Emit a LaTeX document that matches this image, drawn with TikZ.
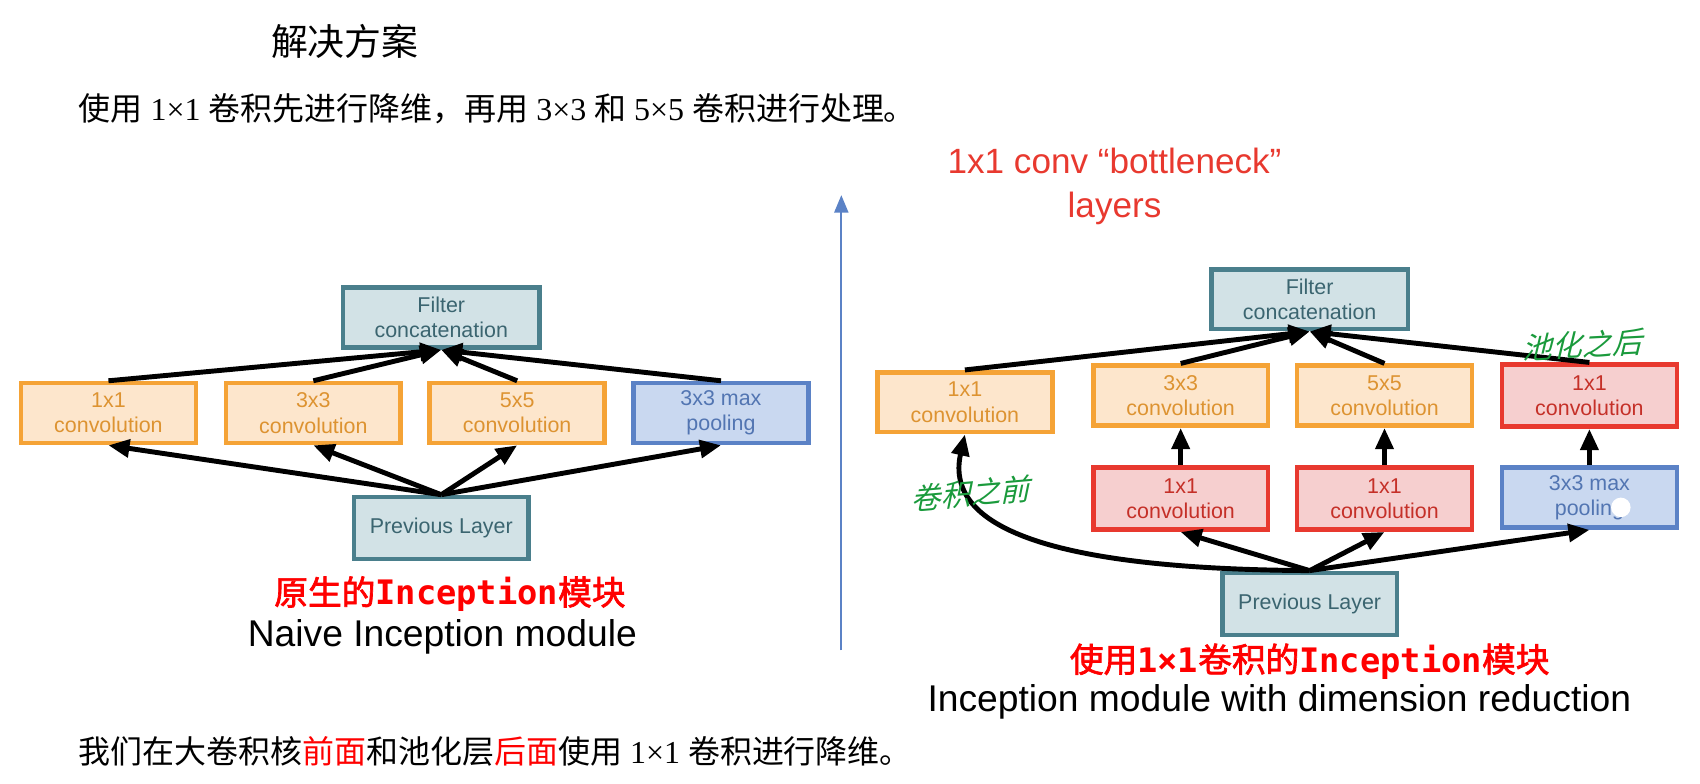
\documentclass[tikz,border=0pt]{standalone}
\usepackage{fontspec}
\setmainfont{Liberation Serif}
\setsansfont{Liberation Sans}
\newfontfamily\cjk{Noto Sans CJK SC}
\newfontfamily\cjkb{Noto Sans CJK SC}[FakeBold=2]
\newfontfamily\monob{DejaVu Sans Mono}
\usetikzlibrary{arrows.meta}
\definecolor{tealf}{HTML}{D2E2E6}\definecolor{teald}{HTML}{4A7F8C}
\definecolor{orf}{HTML}{FDE6CC}\definecolor{ord}{HTML}{F5A336}
\definecolor{redf}{HTML}{F6CFCF}\definecolor{redd}{HTML}{E8392F}
\definecolor{bluf}{HTML}{C9D8F0}\definecolor{blud}{HTML}{5B82C6}
\definecolor{hand}{HTML}{1A9A3C}
\begin{document}
\begin{tikzpicture}[x=0.010842cm,y=-0.010842cm,
  box/.style={draw,line width=1.3pt,font=\sffamily\fontsize{6.1}{7.2}\selectfont,align=center,inner sep=0pt},
  filt/.style={box,fill=tealf,draw=teald,text=teald!80!black,minimum width=1.97cm,minimum height=0.6cm},
  ob/.style={box,fill=orf,draw=ord,text=ord!90!black,minimum width=1.75cm,minimum height=0.6cm},
  rb/.style={box,fill=redf,draw=redd,text=redd!85!black,minimum width=1.75cm,minimum height=0.62cm},
  bb/.style={box,fill=bluf,draw=blud,text=blud!90!black,minimum width=1.75cm,minimum height=0.6cm},
  pb/.style={box,fill=tealf,draw=teald,text=teald!80!black,minimum width=1.75cm,minimum height=0.62cm},
  ar/.style={-{Triangle[length=6pt,width=5pt]},line width=1.4pt}]
\useasboundingbox (0,0) rectangle (1568,723);
\node[font=\cjk\fontsize{10.5}{12}\selectfont] (title) at (318,38) {解决方案};
\node[anchor=west,inner sep=0pt,font=\fontsize{9.1}{10}\selectfont] (l1) at (72,100) {{\cjk 使用} 1×1 {\cjk 卷积先进行降维，再用} 3×3 {\cjk 和} 5×5 {\cjk 卷积进行处理。}};
\node[anchor=west,inner sep=0pt,font=\fontsize{9.1}{10}\selectfont] (l2) at (72,693) {{\cjk 我们在大卷积核\textcolor{red}{前面}和池化层\textcolor{red}{后面}使用} 1×1 {\cjk 卷积进行降维。}};
\coordinate (va) at (776,600); \coordinate (vb) at (776,180);
\draw[-{Triangle[length=5pt,width=4pt]},blud,line width=0.6pt] (va) -- (vb);
% left
\node[filt] (Lf) at (407,293) {Filter\\concatenation};
\node[ob] (L1) at (100,381) {1x1\\convolution};
\node[ob] (L3) at (289,381) {3x3\\convolution};
\node[ob] (L5) at (477,381) {5x5\\convolution};
\node[bb] (Lp) at (665,381) {3x3 max\\pooling};
\node[pb] (Lprev) at (407,487) {Previous Layer};
\foreach \n in {L1,L3,L5,Lp}{\draw[ar] (\n.north) -- (Lf.south); \draw[ar] (Lprev.north) -- (\n.south);}
\node[text=red,font=\cjkb\fontsize{9.6}{11}\selectfont] (Lr) at (415,548) {原生的{\monob\bfseries Inception}模块};
\node[font=\sffamily\fontsize{10.6}{12}\selectfont] (Le) at (408,587) {Naive Inception module};
% right
\node[text=redd,font=\sffamily\fontsize{10}{12.5}\selectfont,align=center] (Rt) at (1028,172) {1x1 conv “bottleneck”\\layers};
\node[filt] (Rf) at (1208,276) {Filter\\concatenation};
\node[ob] (R1) at (890,371) {1x1\\convolution};
\node[ob] (R3) at (1089,365) {3x3\\convolution};
\node[ob] (R5) at (1277,365) {5x5\\convolution};
\node[rb] (R7) at (1466,365) {1x1\\convolution};
\node[rb] (S3) at (1089,460) {1x1\\convolution};
\node[rb] (S5) at (1277,460) {1x1\\convolution};
\node[bb] (Sp) at (1466,459) {3x3 max\\pooling};
\node[pb] (Rprev) at (1208,557) {Previous Layer};
\foreach \n in {R1,R3,R5,R7}{\draw[ar] (\n.north) -- (Rf.south);}
\draw[ar] (S3) -- (R3); \draw[ar] (S5) -- (R5); \draw[ar] (Sp) -- (R7);
\foreach \n in {S3,S5,Sp}{\draw[ar] (Rprev.north) -- (\n.south);}
\draw[ar] (Rprev.north) .. controls (980,525) and (870,490) .. (R1.south);
\fill[white] (1495,468) circle (9);
\node[text=hand,font=\cjk\fontsize{8.5}{9}\selectfont,rotate=5,xslant=0.3] (h1) at (898,455) {卷积之前};
\node[text=hand,font=\cjk\fontsize{8.5}{9}\selectfont,rotate=3,xslant=0.3] (h2) at (1462,318) {池化之后};
\node[text=red,font=\cjkb\fontsize{9.6}{11}\selectfont] (Rr) at (1208,610) {使用{\monob\bfseries 1×1}卷积的{\monob\bfseries Inception}模块};
\node[font=\sffamily\fontsize{10.6}{12}\selectfont] (Re) at (1180,647) {Inception module with dimension reduction};
\end{tikzpicture}
\end{document}
